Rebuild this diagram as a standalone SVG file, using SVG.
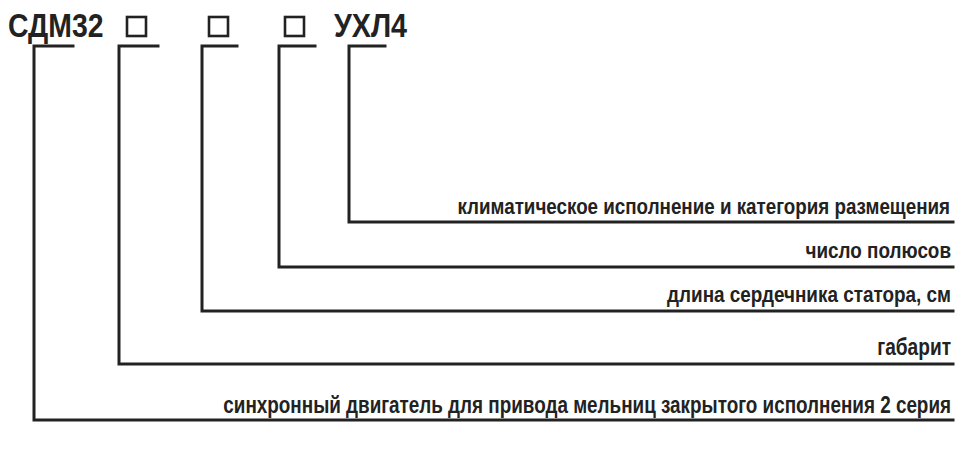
<svg xmlns="http://www.w3.org/2000/svg" width="965" height="452" viewBox="0 0 965 452">
<style>
.t{font-family:"Liberation Sans",Arial,sans-serif;font-weight:bold;fill:#222}
.title{font-size:33px}
.lbl{font-size:21.5px;text-anchor:end}
.lbl2{font-size:24.5px;text-anchor:end}
.ln{fill:none;stroke:#222;stroke-width:3;stroke-linecap:square;stroke-linejoin:miter}
.box{fill:none;stroke:#222;stroke-width:2.6}
</style>
<rect width="965" height="452" fill="#fff"/>
<g id="header">
<text class="t title" transform="translate(8 37) scale(0.86 1)">СДМ32</text>
<rect class="box" x="127" y="17" width="19" height="19"/>
<rect class="box" x="209" y="17" width="19" height="19"/>
<rect class="box" x="285" y="17" width="19" height="19"/>
<text class="t title" transform="translate(334 37) scale(0.87 1)">УХЛ4</text>
</g>
<g id="connectors">
<path class="ln" d="M385 46 H349 V222 H953"/>
<path class="ln" d="M315 46 H279 V267 H953"/>
<path class="ln" d="M237 46 H202 V311 H953"/>
<path class="ln" d="M158 46 H119 V364 H953"/>
<path class="ln" d="M73 46 H34 V420 H953"/>
</g>
<g id="climate">
<text class="t lbl" transform="translate(950 214) scale(0.874 1)">климатическое исполнение и категория размещения</text>
</g>
<g id="poles">
<text class="t lbl" transform="translate(951 258) scale(0.878 1)">число полюсов</text>
</g>
<g id="length">
<text class="t lbl" transform="translate(951 302) scale(0.879 1)">длина сердечника статора, см</text>
</g>
<g id="size">
<text class="t lbl2" transform="translate(951 355) scale(0.78 1)">габарит</text>
</g>
<g id="type">
<text class="t lbl2" transform="translate(951 413) scale(0.77 1)">синхронный двигатель для привода мельниц закрытого исполнения 2 серия</text>
</g>
</svg>
